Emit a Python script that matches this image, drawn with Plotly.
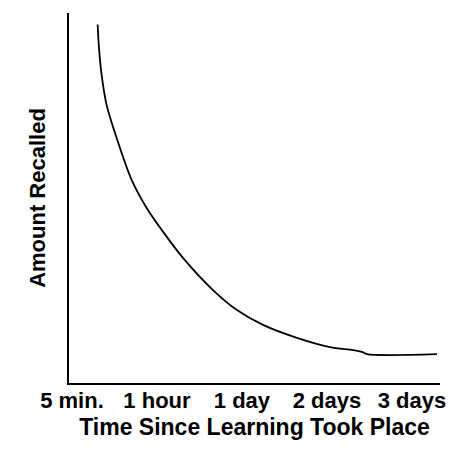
import plotly.graph_objects as go

# Tick categories along the time axis
tick_labels = ["5 min.", "1 hour", "1 day", "2 days", "3 days"]
tick_positions = [0, 1, 2, 3, 4]

# Forgetting curve (x in tick units, y in % of axis height)
curve_x = [0.302, 0.318, 0.349, 0.408, 0.506, 0.702, 0.879, 1.071, 1.306,
           1.659, 1.941, 2.247, 2.647, 3.035, 3.306, 3.412, 3.471, 4.294]
curve_y = [96.9, 90.5, 83.2, 75.1, 67.6, 54.9, 47.3, 40.9, 33.8,
           25.1, 19.7, 15.7, 12.2, 9.7, 8.9, 8.4, 7.8, 7.8]

FONT = "Liberation Sans, Arial, Helvetica, sans-serif"

fig = go.Figure()
fig.add_trace(go.Scatter(
    x=curve_x, y=curve_y, mode="lines",
    line=dict(color="black", width=1.8, shape="spline", smoothing=0.9),
    hoverinfo="skip", showlegend=False,
))

fig.update_layout(
    width=474, height=460,
    margin=dict(l=69, r=34, t=13, b=77),
    paper_bgcolor="white", plot_bgcolor="white",
    font=dict(family=FONT, color="black"),
    xaxis=dict(
        range=[-0.035, 4.33],
        tickmode="array", tickvals=tick_positions, ticktext=tick_labels,
        tickfont=dict(size=22, family=FONT, weight="bold"),
        ticklabelstandoff=-3,
        ticks="", showgrid=False, zeroline=False,
        showline=True, linecolor="black", linewidth=2,
        title=dict(text="Time Since Learning Took Place",
                   font=dict(size=23, family=FONT, weight="bold"), standoff=6),
    ),
    yaxis=dict(
        range=[0, 100], showticklabels=False, ticks="",
        showgrid=False, zeroline=False,
        showline=True, linecolor="black", linewidth=2,
        title=dict(text="Amount Recalled",
                   font=dict(size=22, family=FONT, weight="bold"), standoff=15),
    ),
)

fig.write_html("out.html")
